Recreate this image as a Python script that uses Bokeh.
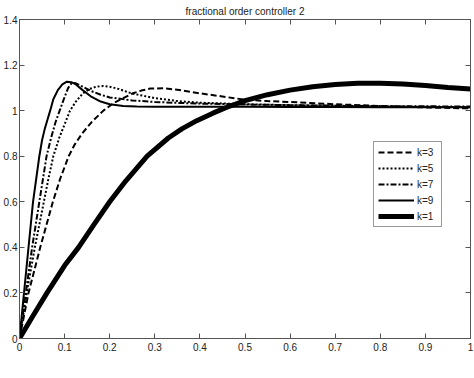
from bokeh.plotting import figure
from bokeh.models import Range1d, FixedTicker, LinearAxis, Legend, LegendItem
from bokeh.embed import file_html
from bokeh.resources import INLINE

title_text = "fractional order controller 2"

# k=3 (dashed)
x_k3 = [0, 0.01, 0.02, 0.033, 0.046, 0.06, 0.074, 0.09, 0.109, 0.122, 0.139, 0.16, 0.186, 0.21, 0.23, 0.25, 0.27, 0.29, 0.32, 0.35, 0.4, 0.45, 0.5, 0.55, 0.62, 0.7, 0.78, 0.85, 0.92, 1.0]
y_k3 = [0, 0.1, 0.2, 0.3, 0.4, 0.5, 0.6, 0.7, 0.8, 0.85, 0.9, 0.95, 1.0, 1.035, 1.055, 1.075, 1.088, 1.097, 1.098, 1.092, 1.076, 1.062, 1.048, 1.042, 1.036, 1.028, 1.022, 1.017, 1.013, 1.01]

# k=5 (dotted)
x_k5 = [0, 0.008, 0.016, 0.025, 0.034, 0.044, 0.054, 0.064, 0.075, 0.088, 0.1, 0.112, 0.125, 0.14, 0.155, 0.17, 0.185, 0.2, 0.22, 0.25, 0.3, 0.35, 0.4, 0.5, 0.6, 0.7, 0.8, 0.9, 1.0]
y_k5 = [0, 0.1, 0.2, 0.3, 0.4, 0.5, 0.6, 0.7, 0.8, 0.88, 0.94, 1.0, 1.04, 1.075, 1.095, 1.105, 1.108, 1.105, 1.095, 1.075, 1.055, 1.042, 1.035, 1.028, 1.024, 1.021, 1.019, 1.017, 1.015]

# k=7 (dash-dot)
x_k7 = [0, 0.007, 0.014, 0.021, 0.028, 0.036, 0.044, 0.052, 0.06, 0.07, 0.08, 0.089, 0.1, 0.108, 0.116, 0.125, 0.14, 0.16, 0.18, 0.2, 0.25, 0.3, 0.35, 0.4, 0.5, 0.6, 0.7, 0.8, 0.9, 1.0]
y_k7 = [0, 0.1, 0.2, 0.3, 0.4, 0.5, 0.6, 0.7, 0.8, 0.88, 0.95, 1.0, 1.06, 1.1, 1.122, 1.12, 1.105, 1.085, 1.07, 1.058, 1.045, 1.038, 1.034, 1.031, 1.027, 1.024, 1.022, 1.02, 1.019, 1.018]

# k=9 (solid)
x_k9 = [0, 0.005, 0.01, 0.015, 0.02, 0.025, 0.03, 0.037, 0.044, 0.05, 0.056, 0.062, 0.068, 0.075, 0.085, 0.095, 0.105, 0.115, 0.125, 0.14, 0.16, 0.18, 0.2, 0.23, 0.26, 0.3, 0.4, 0.5, 0.6, 0.7, 0.8, 0.9, 1.0]
y_k9 = [0, 0.1, 0.2, 0.3, 0.4, 0.5, 0.6, 0.7, 0.8, 0.87, 0.92, 0.96, 1.0, 1.05, 1.09, 1.115, 1.127, 1.125, 1.115, 1.09, 1.06, 1.04, 1.028, 1.02, 1.018, 1.017, 1.017, 1.017, 1.016, 1.016, 1.015, 1.015, 1.015]

# k=1 (thick solid)
x_k1 = [0, 0.03, 0.061, 0.1, 0.131, 0.165, 0.2, 0.235, 0.283, 0.33, 0.36, 0.393, 0.43, 0.46, 0.5, 0.55, 0.6, 0.65, 0.7, 0.75, 0.8, 0.85, 0.9, 0.95, 1.0]
y_k1 = [0, 0.1, 0.2, 0.32, 0.4, 0.5, 0.6, 0.69, 0.8, 0.88, 0.92, 0.956, 0.99, 1.015, 1.044, 1.07, 1.09, 1.105, 1.115, 1.12, 1.12, 1.117, 1.11, 1.102, 1.095]

series_labels = ["k=3", "k=5", "k=7", "k=9", "k=1"]

x_ticks = [0, 0.1, 0.2, 0.3, 0.4, 0.5, 0.6, 0.7, 0.8, 0.9, 1]
x_tick_labels = ["0", "0.1", "0.2", "0.3", "0.4", "0.5", "0.6", "0.7", "0.8", "0.9", "1"]
y_ticks = [0, 0.2, 0.4, 0.6, 0.8, 1, 1.2, 1.4]
y_tick_labels = ["0", "0.2", "0.4", "0.6", "0.8", "1", "1.2", "1.4"]

FONT = "Liberation Sans"
AX = "#555555"
TXT = "#222222"

p = figure(width=474, height=378, output_backend="svg", toolbar_location=None,
           x_range=Range1d(0, 1), y_range=Range1d(0, 1.4),
           min_border_left=0, min_border_right=4, min_border_top=19, min_border_bottom=40,
           title=title_text)
p.title.align = "center"
p.title.text_font = FONT
p.title.text_font_size = "10px"
p.title.text_font_style = "normal"
p.title.text_color = TXT
p.title.standoff = 6
p.xgrid.visible = False
p.ygrid.visible = False
p.outline_line_color = AX
p.outline_line_width = 1
p.background_fill_color = "white"
p.border_fill_color = "white"


def style_axis(ax, ticks, labels):
    ax.ticker = FixedTicker(ticks=list(ticks))
    ax.major_label_overrides = dict(zip(ticks, labels))
    ax.major_tick_in = 5
    ax.major_tick_out = 0
    ax.minor_tick_line_color = None
    ax.axis_line_color = AX
    ax.major_tick_line_color = AX
    ax.major_label_text_font = FONT
    ax.major_label_text_font_size = "10px"
    ax.major_label_text_color = TXT
    ax.major_label_standoff = 3


style_axis(p.xaxis[0], x_ticks, x_tick_labels)
style_axis(p.yaxis[0], y_ticks, y_tick_labels)
p.xaxis[0].major_label_standoff = 4
p.yaxis[0].major_label_standoff = 2

# frame ticks on top and right (no labels)
ax_top = LinearAxis()
style_axis(ax_top, x_ticks, [""] * len(x_ticks))
ax_top.major_label_standoff = 0
p.add_layout(ax_top, "above")
ax_right = LinearAxis()
style_axis(ax_right, y_ticks, [""] * len(y_ticks))
ax_right.major_label_standoff = 0
p.add_layout(ax_right, "right")

r3 = p.line(x_k3, y_k3, line_color="black", line_width=2, line_dash="6 3")
r5 = p.line(x_k5, y_k5, line_color="black", line_width=2, line_dash="2 2")
r7 = p.line(x_k7, y_k7, line_color="black", line_width=2, line_dash="6 2 2 2")
r9 = p.line(x_k9, y_k9, line_color="black", line_width=2)
r1 = p.line(x_k1, y_k1, line_color="black", line_width=5)

legend = Legend(items=[LegendItem(label=lab, renderers=[r]) for lab, r in zip(series_labels, [r3, r5, r7, r9, r1])],
                location=(354, 111))
legend.border_line_color = "#333333"
legend.border_line_width = 1
legend.label_text_font = FONT
legend.label_text_font_size = "10px"
legend.label_text_color = TXT
legend.glyph_width = 36
legend.glyph_height = 12
legend.label_height = 12
legend.spacing = 4
legend.padding = 4
legend.margin = 0
legend.label_standoff = 3
legend.background_fill_alpha = 1
p.add_layout(legend, "center")

open("out.html", "w").write(file_html(p, INLINE))
